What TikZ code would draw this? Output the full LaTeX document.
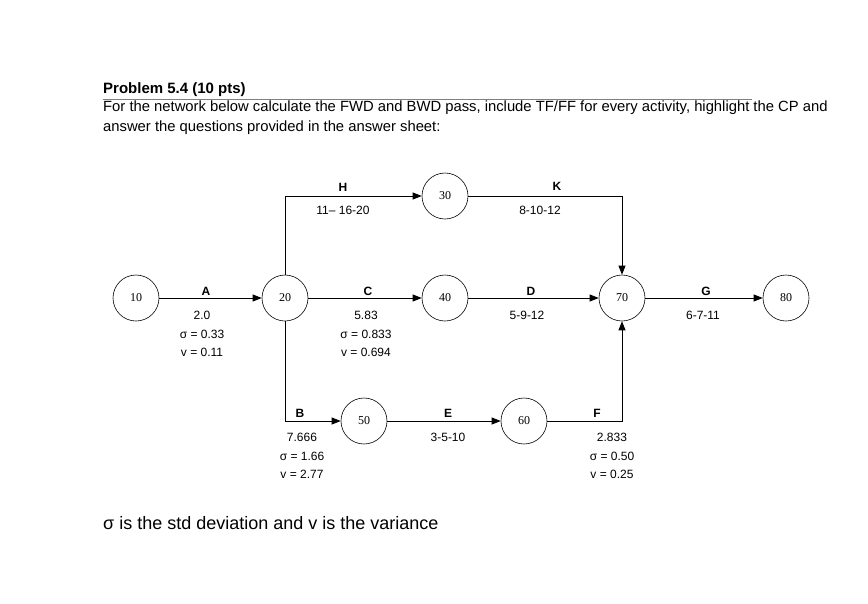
\documentclass[tikz,border=0pt]{standalone}
\usepackage{fontspec}
\setmainfont{Liberation Sans}
\newfontfamily\serifnum{Liberation Serif}
\usetikzlibrary{arrows.meta}
\begin{document}
\begin{tikzpicture}[x=1pt,y=-1pt,
  ev/.style={circle,draw,line width=0.6pt,minimum size=46pt,inner sep=0pt,font=\serifnum\fontsize{12}{12}\selectfont},
  arr/.style={line width=0.8pt,-{Triangle[length=9pt,width=7pt]}},
  lbl/.style={font=\bfseries\fontsize{12}{12}\selectfont,inner sep=0pt},
  val/.style={font=\fontsize{12}{18.5}\selectfont,align=center,inner sep=0pt,anchor=north}]
\useasboundingbox (0,0) rectangle (868,603);
\node[anchor=base west,inner sep=0pt,font=\bfseries\fontsize{15}{15}\selectfont] (title) at (103,93) {Problem 5.4 (10 pts)};
\draw[gray,line width=1pt] (103,99) -- (752,99);
\node[anchor=north west,inner sep=0pt,font=\fontsize{14.8}{20}\selectfont,align=left] (intro) at (103,101) {For the network below calculate the FWD and BWD pass, include TF/FF for every activity, highlight the CP and\\answer the questions provided in the answer sheet:};
\node[ev] (n10) at (136,298) {10};
\node[ev] (n20) at (285,298) {20};
\node[ev] (n30) at (445,196) {30};
\node[ev] (n40) at (445,298) {40};
\node[ev] (n70) at (622,298) {70};
\node[ev] (n80) at (786,298) {80};
\node[ev] (n50) at (364,421) {50};
\node[ev] (n60) at (524,421) {60};
\draw[arr] (n10) -- (n20);
\draw[arr] (n20) -- (n40);
\draw[arr] (n40) -- (n70);
\draw[arr] (n70) -- (n80);
\draw[arr] (n50) -- (n60);
\draw[arr] (n20.north) |- (n30);
\draw[arr] (n30) -| (n70.north);
\draw[arr] (n20.south) |- (n50);
\draw[arr] (n60) -| (n70.south);
\node[lbl] (lH) at (343,187) {H};
\node[lbl] (lK) at (557,186) {K};
\node[lbl] (lA) at (206,291) {A};
\node[lbl] (lC) at (368,291) {C};
\node[lbl] (lD) at (531,291) {D};
\node[lbl] (lG) at (706,291) {G};
\node[lbl] (lB) at (300,413) {B};
\node[lbl] (lE) at (448,413) {E};
\node[lbl] (lF) at (597,413) {F};
\node[val] (vH) at (343,206) {11– 16-20};
\node[val] (vK) at (540,206) {8-10-12};
\node[val] (vA) at (202,311) {2.0\\σ = 0.33\\v = 0.11};
\node[val] (vC) at (366,311) {5.83\\σ = 0.833\\v = 0.694};
\node[val] (vD) at (527,311) {5-9-12};
\node[val] (vG) at (703,311) {6-7-11};
\node[val] (vB) at (302,433) {7.666\\σ = 1.66\\v = 2.77};
\node[val] (vE) at (448,433) {3-5-10};
\node[val] (vF) at (612,433) {2.833\\σ = 0.50\\v = 0.25};
\node[anchor=base west,inner sep=0pt,font=\fontsize{18}{18}\selectfont] (note) at (103,529) {σ is the std deviation and v is the variance};
\end{tikzpicture}
\end{document}
